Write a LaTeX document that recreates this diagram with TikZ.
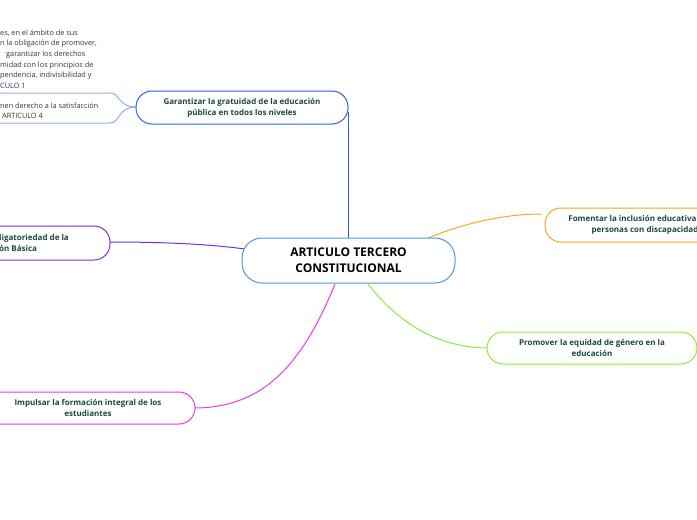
\documentclass[tikz,border=0pt]{standalone}
\usepackage{fontspec}
\setmainfont{Open Sans}
\begin{document}
\begin{tikzpicture}[x=1pt,y=-1pt,
  box/.style={draw,line width=1pt,rounded corners=16pt,fill=white,font=\bfseries\fontsize{8}{11}\selectfont,text=txt,align=center,inner sep=0pt},
  conn/.style={line width=1pt},
  small/.style={font=\fontsize{7.3}{11}\selectfont,text=black!80,inner sep=0pt,anchor=west}]
\definecolor{txt}{HTML}{1A4A3A}
\definecolor{cblue}{HTML}{4A9AD8}
\definecolor{tblue}{HTML}{2A5FE8}
\definecolor{lblue}{HTML}{8AB0F0}
\definecolor{cpurp}{HTML}{7A2EE0}
\definecolor{corg}{HTML}{F5A623}
\definecolor{cgrn}{HTML}{8FE83A}
\definecolor{cmag}{HTML}{E83AE8}
\useasboundingbox (0,0) rectangle (697,520);
\clip (0,0) rectangle (697,520);
% connectors
\coordinate (tr) at (348,112);
\coordinate (s1) at (0,93);
\coordinate (s1e) at (110,93);
\coordinate (s2) at (0,123);
\coordinate (s2e) at (110,123);
\coordinate (tl) at (136,107);
\draw[conn,tblue] (tr) -- (348,238);
\draw[conn,lblue] (s1) -- (s1e) .. controls (120,93) and (118,107) .. (tl);
\draw[conn,lblue] (s2) -- (s2e) .. controls (120,123) and (118,107) .. (tl);
\draw[conn,cpurp] (245,249) .. controls (200,243) and (150,242) .. (108,242);
\draw[conn,corg] (428,238) .. controls (460,225) and (500,214) .. (542,214);
\draw[conn,cgrn] (368,284) .. controls (400,325) and (440,348) .. (489,348);
\draw[conn,cmag] (335,284) .. controls (300,370) and (260,408) .. (193,408);
% nodes
\node[box,draw=cblue,minimum width=213pt,minimum height=45pt,rounded corners=20pt,font=\bfseries\fontsize{12}{16}\selectfont,text=black] (c) at (348.5,260.5) {ARTICULO TERCERO\\CONSTITUCIONAL};
\node[box,draw=tblue,minimum width=212pt,minimum height=33pt] (t) at (242,107.5) {Garantizar la gratuidad de la educación\\pública en todos los niveles};
\node[box,draw=cpurp,minimum width=160pt,minimum height=34pt] (p) at (30,243) {};
\node[font=\bfseries\fontsize{8}{11}\selectfont,text=txt,align=left,inner sep=0pt,anchor=west] (pt) at (-1,243) {ligatoriedad de la\\ón Básica};
\node[box,draw=corg,minimum width=200pt,minimum height=34pt] (o) at (645,225) {Fomentar la inclusión educativa de las\\personas con discapacidad};
\node[box,draw=cgrn,minimum width=210pt,minimum height=32pt] (g) at (592,348) {Promover la equidad de género en la\\educación};
\node[box,draw=cmag,minimum width=250pt,minimum height=32pt] (m) at (70,408) {};
\node[font=\bfseries\fontsize{8}{11}\selectfont,text=txt,align=center,inner sep=0pt] (mt) at (88,408) {Impulsar la formación integral de los\\estudiantes};
\node[small] (l1) at (0,33) {es, en el ámbito de sus};
\node[small] (l2) at (0,44) {n la obligación de promover,};
\node[small] (l3) at (6,55) {garantizar los derechos};
\node[small] (l4) at (0,66) {midad con los principios de};
\node[small] (l5) at (0,76) {pendencia, indivisibilidad y};
\node[small] (l6) at (0,86) {CULO 1};
\node[small] (l7) at (0,106) {nen derecho a la satisfacción};
\node[small] (l8) at (2,116) {ARTICULO 4};
\end{tikzpicture}
\end{document}
